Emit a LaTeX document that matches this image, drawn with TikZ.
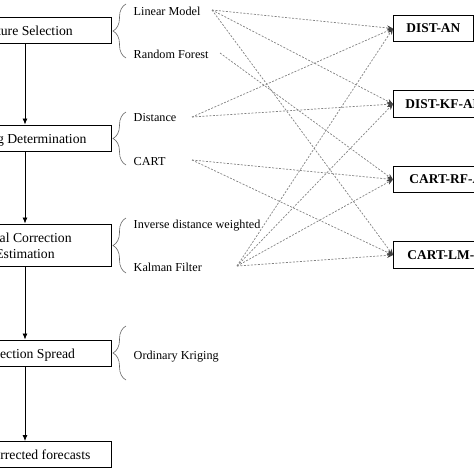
\documentclass[tikz,border=0pt]{standalone}
\usepackage{fontspec}
\setmainfont{Liberation Serif}
\usetikzlibrary{arrows.meta,decorations.pathreplacing}
\tikzset{
  stage/.style={draw,line width=0.9pt,minimum width=172pt,inner ysep=8pt,align=center,
    text height=10pt,text depth=0pt,font=\fontsize{13.7}{16}\selectfont},
  method/.style={anchor=base west,inner sep=0pt,font=\fontsize{12.2}{14}\selectfont},
  model/.style={draw,line width=0.9pt,anchor=west,inner ysep=9pt,text height=8.8pt,text depth=0pt,
    font=\bfseries\fontsize{13.4}{15}\selectfont},
  flow/.style={line width=0.8pt,-{Latex[length=6pt,width=5pt]}},
  combo/.style={gray,line width=0.7pt,dash pattern=on 2pt off 1.5pt,-{Stealth[length=6pt,width=5pt,black!75]}},
  group/.style={decorate,decoration={brace,amplitude=13pt},black!60,line width=0.6pt}
}
\begin{document}
\begin{tikzpicture}[x=1pt,y=-1pt]
\useasboundingbox (0,0) rectangle (474,474);
\clip (0,0) rectangle (474,474);

\node[stage] (feat) at (25,30) {Feature Selection};
\node[stage] (analog) at (25,138) {Analog Determination};
\node[stage,text height=26pt] (local) at (25,245) {Local Correction\\Estimation};
\node[stage] (spread) at (25,353) {Correction Spread};
\node[stage] (final) at (25,454.5) {Bias corrected forecasts};

\draw[flow] (feat) -- (analog);
\draw[flow] (analog) -- (local);
\draw[flow] (local) -- (spread);
\draw[flow] (spread) -- (final);

\draw[group] (126,58) -- (126,4);
\draw[group] (126,165) -- (126,112);
\draw[group] (126,273) -- (126,218);
\draw[group] (126,380) -- (126,326);

\node[method] (lm) at (133.5,15) {Linear Model};
\node[method] (rf) at (133.5,58) {Random Forest};
\node[method] (dist) at (133.5,121) {Distance};
\node[method] (cart) at (133.5,165) {CART};
\node[method] (idw) at (133.5,228) {Inverse distance weighted};
\node[method] (kf) at (133.5,271) {Kalman Filter};
\node[method] (ok) at (133.5,359) {Ordinary Kriging};

\coordinate (lm-out) at (212,10);
\coordinate (rf-out) at (220,53);
\coordinate (dist-out) at (192,117);
\coordinate (cart-out) at (192,160);
\coordinate (kf-out) at (237,266);

\node[model,inner xsep=13pt] (dan) at (393,28.5) {DIST-AN};
\node[model,inner xsep=12pt] (dkf) at (393,104) {DIST-KF-AN};
\node[model,inner xsep=16pt] (crf) at (393,179.5) {CART-RF-AN};
\node[model,inner xsep=14pt] (clm) at (393,255) {CART-LM-AN};

\draw[combo] (lm-out) -- (dan.west);
\draw[combo] (lm-out) -- (dkf.west);
\draw[combo] (lm-out) -- (clm.west);
\draw[combo] (rf-out) -- (crf.west);
\draw[combo] (dist-out) -- (dan.west);
\draw[combo] (dist-out) -- (dkf.west);
\draw[combo] (cart-out) -- (crf.west);
\draw[combo] (cart-out) -- (clm.west);
\draw[combo] (kf-out) -- (dan.west);
\draw[combo] (kf-out) -- (dkf.west);
\draw[combo] (kf-out) -- (crf.west);
\draw[combo] (kf-out) -- (clm.west);
\end{tikzpicture}
\end{document}
